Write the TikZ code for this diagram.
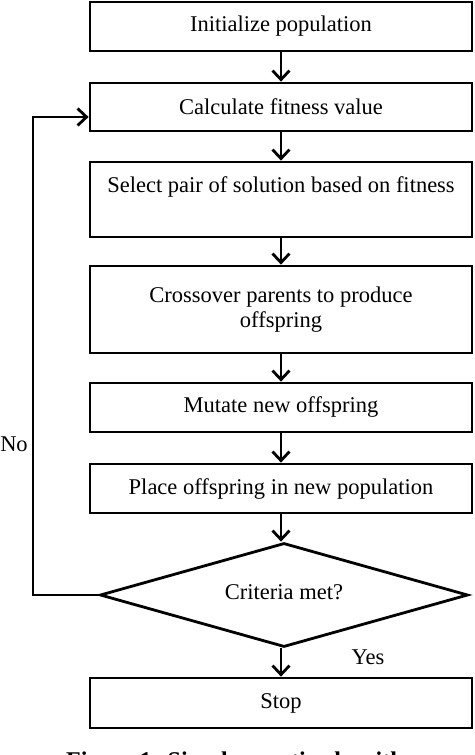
\documentclass[tikz,border=0pt]{standalone}
\usepackage{fontspec}
\setmainfont{Liberation Serif}
\usetikzlibrary{arrows.meta,shapes.geometric}
\begin{document}
\begin{tikzpicture}[x=1pt,y=-1pt,
  box/.style={draw, line width=2.8pt, minimum width=382pt, inner sep=0pt,
    align=center, font=\fontsize{22.5}{25}\selectfont},
  decision/.style={draw, shape=diamond, aspect=3.54, line width=2.8pt, inner sep=0pt,
    minimum width=368pt, minimum height=104pt, font=\fontsize{22.5}{25}\selectfont},
  lbl/.style={inner sep=0pt, font=\fontsize{22.5}{25}\selectfont},
  arr/.style={line width=2.8pt, -{Straight Barb[length=9pt,width=17pt]}},
  conn/.style={line width=2.8pt}]
\useasboundingbox (0,0) rectangle (474,755);
\clip (0,0) rectangle (474,755);
\node[box, minimum height=49pt] (b1) at (281,26.5) {Initialize population};
\node[box, minimum height=48pt] (b2) at (281,107) {Calculate fitness value};
\node[box, minimum height=75pt] (b3) at (281,199.5) {\strut Select pair of solution based on fitness\\\strut};
\node[box, minimum height=87pt] (b4) at (281,309.5) {\strut Crossover parents to produce\\\strut offspring};
\node[box, minimum height=49pt] (b5) at (281,407.5) {Mutate new offspring};
\node[box, minimum height=49pt] (b6) at (281,488.5) {Place offspring in new population};
\node[decision] (dia) at (284,595) {\raisebox{6pt}{Criteria met?}};
\node[box, minimum height=50pt] (stop) at (281,703) {Stop};
\node[lbl] (no) at (14,444) {No};
\node[lbl] (yes) at (368,657) {Yes};
\node[anchor=base west, inner sep=0pt, font=\fontsize{24}{28}\selectfont\bfseries] (cap) at (66,768) {Figure 1: Simple genetic algorithm};
\coordinate (fbl) at (33,595);
\coordinate (fbt) at (33,117);
\draw[arr] (b1) -- (b2);
\draw[arr] (b2) -- (b3);
\draw[arr] (b3) -- (b4);
\draw[arr] (b4) -- (b5);
\draw[arr] (b5) -- (b6);
\draw[arr] (b6.south) -- (b6.south |- dia.north);
\draw[arr] (b6.south |- dia.south) -- (stop.north);
\draw[arr, line join=miter] (dia.west) -- (fbl) -- (fbt) -- (b2.west |- fbt);
\end{tikzpicture}
\end{document}
